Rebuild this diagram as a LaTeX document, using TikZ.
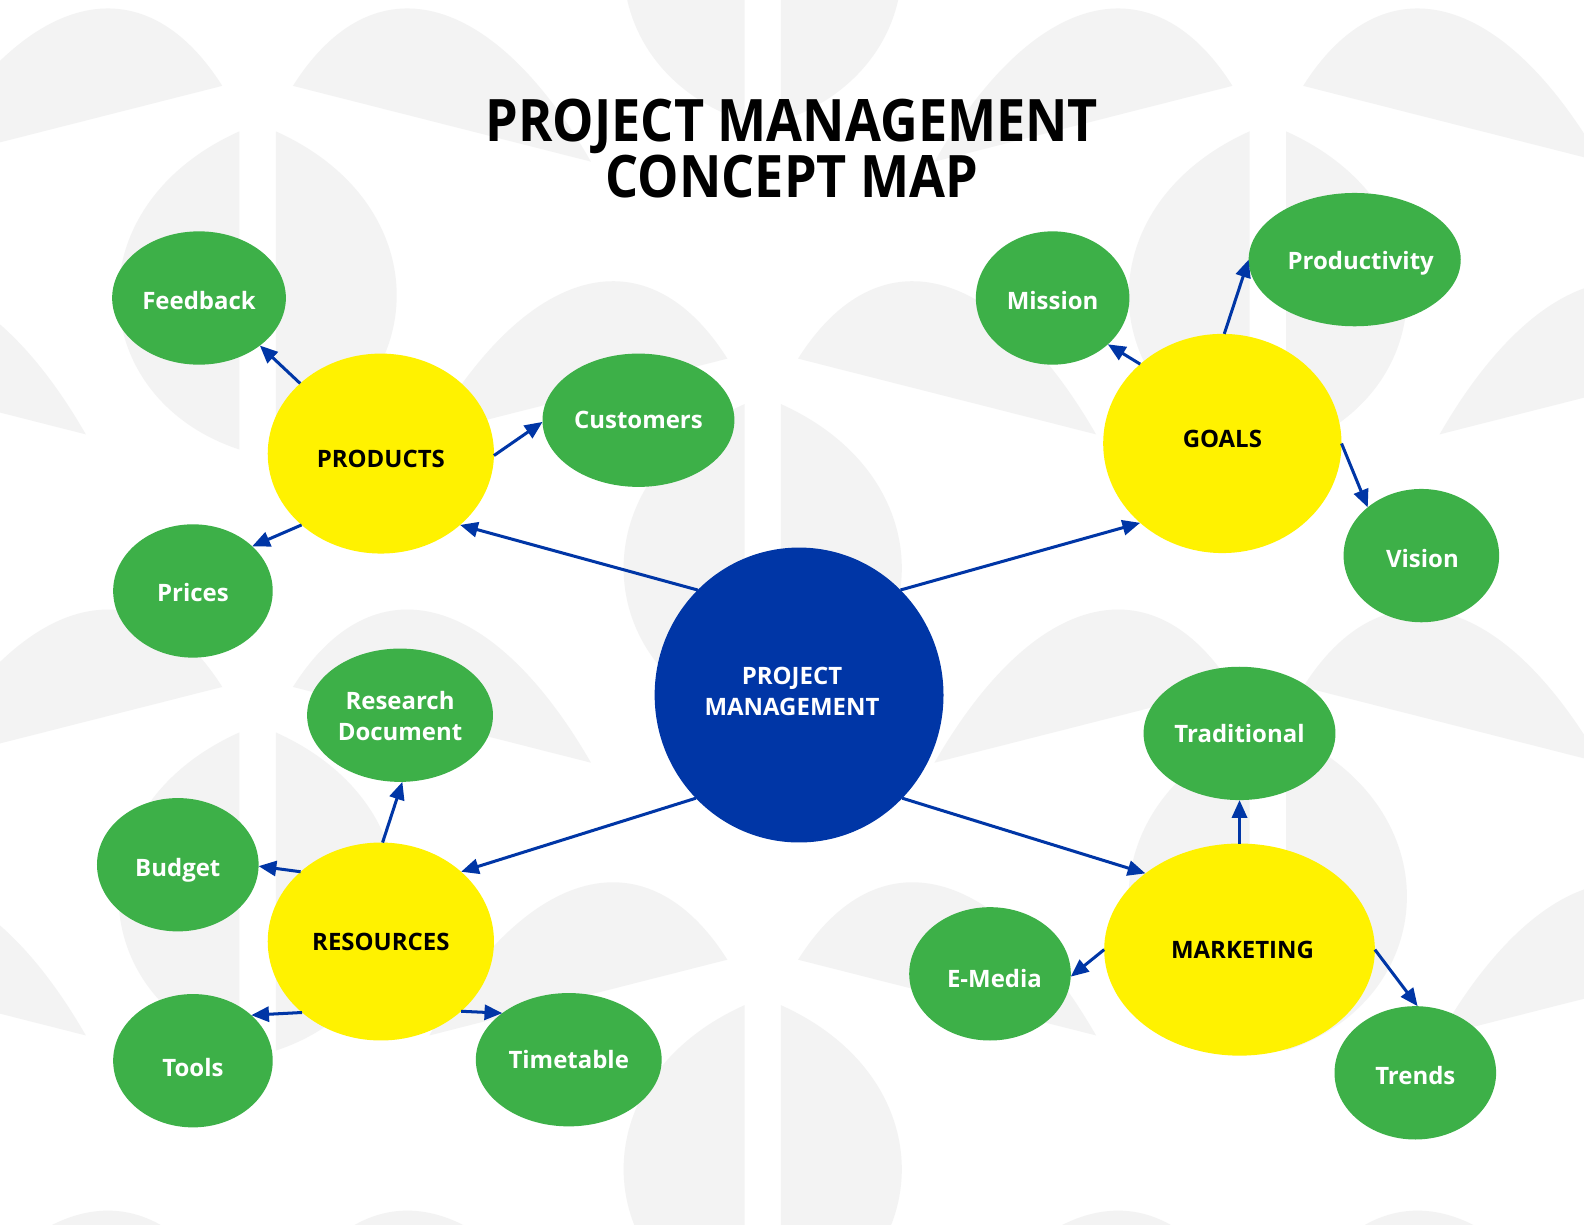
\documentclass[tikz,border=0pt]{standalone}
\usepackage{fontspec}
\setmainfont{Open Sans}
\newfontfamily\titlefont{Open Sans}[FakeStretch=0.89]
\usetikzlibrary{shapes.geometric,arrows.meta}
\definecolor{pmblue}{HTML}{0036A6}
\definecolor{arrblue}{HTML}{0036A6}
\definecolor{leafgreen}{HTML}{3DB048}
\definecolor{hubyellow}{HTML}{FFF200}
\definecolor{bggray}{HTML}{F3F3F3}
% \tx{kern (2 x horizontal shift)}{drop}{text}
\newcommand\tx[3]{\makebox[0pt]{\kern#1\raisebox{-#2}[\height][\depth]{#3}}}
\newcommand\twolines[2]{\begin{tabular}{@{}c@{}}#1\\#2\end{tabular}}
\tikzset{
  bgleaf/.style={fill=bggray},
  blob/.style={ellipse, inner sep=0pt, outer sep=0pt,
    font=\fontsize{13.5}{17.6}\selectfont\bfseries},
  center/.style={blob, fill=pmblue, text=white},
  hub/.style={blob, fill=hubyellow, text=black},
  leaf/.style={blob, fill=leafgreen, text=white},
  arr/.style={draw=arrblue, line width=1.7pt, -{Triangle[length=10pt,width=8.5pt]}},
  titletext/.style={align=center, inner sep=0pt, font=\titlefont\fontsize{33}{29.5}\selectfont\bfseries}
}
\newcommand\leafmotif[2]{%
  \fill[bgleaf] ({#1-35},{#2}) -- ({#1-330},{#2+75}) .. controls ({#1-232},{#2-95}) and ({#1-114},{#2-125}) .. ({#1-35},{#2}) -- cycle;
  \fill[bgleaf] ({#1+35},{#2}) -- ({#1+330},{#2+75}) .. controls ({#1+232},{#2-95}) and ({#1+114},{#2-125}) .. ({#1+35},{#2}) -- cycle;
  \fill[bgleaf] ({#1-18},{#2+45}) -- ({#1-18},{#2+360}) .. controls ({#1-170},{#2+310}) and ({#1-185},{#2+120}) .. ({#1-18},{#2+45}) -- cycle;
  \fill[bgleaf] ({#1+18},{#2+45}) -- ({#1+18},{#2+360}) .. controls ({#1+170},{#2+310}) and ({#1+185},{#2+120}) .. ({#1+18},{#2+45}) -- cycle;
}
\begin{document}
\begin{tikzpicture}[x=0.02cm,y=-0.02cm]
\useasboundingbox (0,0) rectangle (1568,1212);
\fill[white] (0,0) rectangle (1568,1212);
% background leaf pattern
\begin{scope}
\clip (0,0) rectangle (1568,1212);
\foreach \sx in {255,1255}{
  \foreach \sy in {-510,85,680,1275}{\leafmotif{\sx}{\sy}}}
\foreach \sx in {-245,755,1755}{
  \foreach \sy in {-240,355,950}{\leafmotif{\sx}{\sy}}}
\end{scope}
% title
\node[titletext] (title) at (784,147) {PROJECT MANAGEMENT\\CONCEPT MAP};
% nodes
\node[center, minimum width=5.72cm, minimum height=5.84cm] (pm) at (791,688) {\tx{-8pt}{-0.6pt}{\twolines{PROJECT}{MANAGEMENT}}};
\node[hub, minimum width=4.48cm, minimum height=3.96cm] (prod) at (377,449) {\tx{0pt}{2.8pt}{PRODUCTS}};
\node[leaf, minimum width=3.44cm, minimum height=2.64cm] (feed) at (197,295) {\tx{0pt}{1.2pt}{Feedback}};
\node[leaf, minimum width=3.80cm, minimum height=2.64cm] (cust) at (632,416) {\tx{0pt}{0pt}{Customers}};
\node[leaf, minimum width=3.16cm, minimum height=2.64cm] (price) at (191,585) {\tx{0pt}{0.6pt}{Prices}};
\node[hub, minimum width=4.72cm, minimum height=4.34cm] (goals) at (1210,439) {\tx{0pt}{-2.3pt}{GOALS}};
\node[leaf, minimum width=3.04cm, minimum height=2.64cm] (miss) at (1042,295) {\tx{0pt}{1.2pt}{Mission}};
\node[leaf, minimum width=4.20cm, minimum height=2.64cm] (prodv) at (1341,257) {\tx{6.8pt}{2.3pt}{Productivity}};
\node[leaf, minimum width=3.08cm, minimum height=2.64cm] (vis) at (1407,550) {\tx{1.2pt}{1.7pt}{Vision}};
\node[hub, minimum width=4.48cm, minimum height=3.92cm] (res) at (377,932) {\tx{0pt}{0pt}{RESOURCES}};
\node[leaf, minimum width=3.68cm, minimum height=2.64cm] (rdoc) at (396,708) {\tx{0pt}{2pt}{\twolines{Research}{Document}}};
\node[leaf, minimum width=3.20cm, minimum height=2.64cm] (budg) at (176,856) {\tx{0pt}{3.4pt}{Budget}};
\node[leaf, minimum width=3.16cm, minimum height=2.64cm] (tools) at (191,1050) {\tx{0pt}{4pt}{Tools}};
\node[leaf, minimum width=3.68cm, minimum height=2.64cm] (time) at (563,1049) {\tx{0pt}{0pt}{Timetable}};
\node[hub, minimum width=5.36cm, minimum height=4.20cm] (mkt) at (1227,940) {\tx{3.4pt}{0pt}{MARKETING}};
\node[leaf, minimum width=3.80cm, minimum height=2.64cm] (trad) at (1227,726) {\tx{0pt}{0pt}{Traditional}};
\node[leaf, minimum width=3.20cm, minimum height=2.64cm] (emed) at (980,964) {\tx{5pt}{2.8pt}{E-Media}};
\node[leaf, minimum width=3.20cm, minimum height=2.64cm] (trend) at (1401,1062) {\tx{0pt}{1.7pt}{Trends}};
% connectors
\draw[arr] (pm.134) -- (prod.-42);
\draw[arr] (pm.46) -- (goals.224);
\draw[arr] (pm.225) -- (res.41);
\draw[arr] (pm.-45) -- (mkt.141);
\draw[arr] (prod.139) -- (feed.-38);
\draw[arr] (prod.-1) -- (cust.181);
\draw[arr] (prod.222) -- (price.37);
\draw[arr] (goals.136) -- (miss.-40);
\draw[arr] (goals.89) -- (prodv.180);
\draw[arr] (goals.0) -- (vis.138);
\draw[arr] (res.89) -- (rdoc.-88);
\draw[arr] (res.139) -- (budg.-1);
\draw[arr] (res.222) -- (tools.38);
\draw[arr] (res.-41) -- (time.145);
\draw[arr] (mkt.90) -- (trad.-90);
\draw[arr] (mkt.180) -- (emed.-2);
\draw[arr] (mkt.0) -- (trend.88);
\end{tikzpicture}
\end{document}
